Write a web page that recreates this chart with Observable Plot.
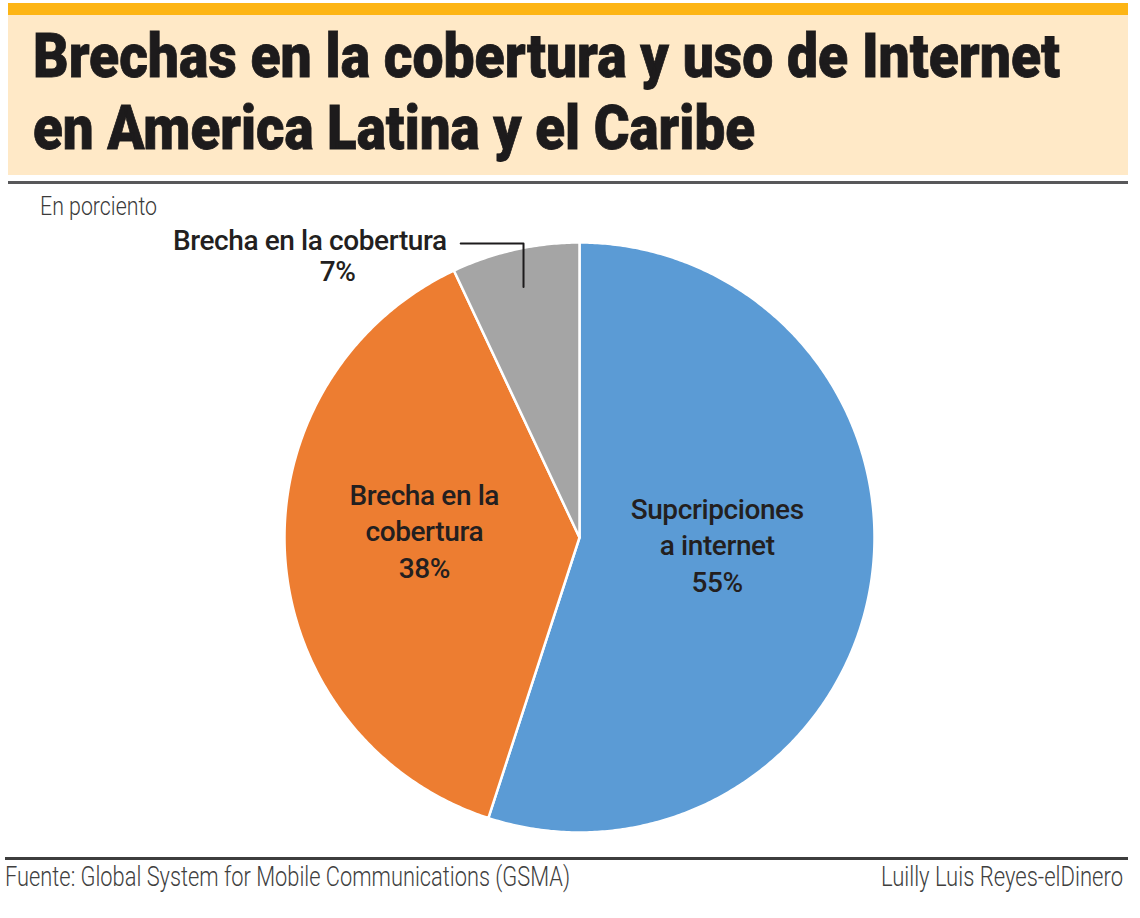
<!DOCTYPE html>
<html><head><meta charset="utf-8">
<script src="https://cdn.jsdelivr.net/npm/d3@7"></script>
<script src="https://cdn.jsdelivr.net/npm/@observablehq/plot@0.6"></script>
<style>
body{margin:0;background:#fff;}
#root{position:relative;width:1140px;height:918px;overflow:hidden;font-family:Roboto,"Liberation Sans",sans-serif;}
.abs{position:absolute;white-space:nowrap;line-height:1;transform-origin:0 0;}
#stripe{left:8px;top:3px;width:1120px;height:12px;background:#FDB515;}
#band{left:8px;top:15px;width:1120px;height:160px;background:#FFE9C7;}
.title{left:33px;font-weight:900;font-size:62px;color:#1d1b1c;-webkit-text-stroke:0.8px #1d1b1c;}
#rule1{left:8px;top:181px;width:1120px;height:3px;background:#58585a;}
#sub{left:40px;top:194px;font-size:25px;font-weight:300;color:#3a3a3a;}
#chart{left:0;top:222px;}
#rule2{left:5px;top:857px;width:1123px;height:3px;background:#3d3d3d;}
.foot{font-size:28px;font-weight:300;color:#3f3f3f;top:863px;}
</style></head>
<body>
<div id="root">
  <div id="stripe" class="abs"></div>
  <div id="band" class="abs"></div>
  <div id="t1" class="abs title" style="top:25px" data-w="1027">Brechas en la cobertura y uso de Internet</div>
  <div id="t2" class="abs title" style="top:97px" data-w="722">en America Latina y el Caribe</div>
  <div id="rule1" class="abs"></div>
  <div id="sub" class="abs" data-w="117">En porciento</div>
  <div id="chart" class="abs"></div>
  <div id="rule2" class="abs"></div>
  <div class="abs foot" style="left:5px" data-w="565">Fuente: Global System for Mobile Communications (GSMA)</div>
  <div class="abs foot" style="left:881px" data-w="242">Luilly Luis Reyes-elDinero</div>
</div>
<script>
// ---- data ----
const categories = ["Supcripciones a internet", "Brecha en la cobertura", "Brecha en la cobertura"];
const labelLines = [["Supcripciones", "a internet"], ["Brecha en la", "cobertura"], ["Brecha en la cobertura"]];
const values = [55, 38, 7];
const colors = ["#5B9BD5", "#ED7D31", "#A5A5A5"];

// ---- build slices (angles clockwise from 12 o'clock, y down) ----
const total = d3.sum(values);
let acc = 0;
const slices = values.map((v, i) => {
  const a0 = acc / total * 2 * Math.PI;
  acc += v;
  const a1 = acc / total * 2 * Math.PI;
  const ring = [[0, 0]];
  const n = Math.max(2, Math.ceil((a1 - a0) / (Math.PI / 360)));
  for (let k = 0; k <= n; k++) {
    const a = a0 + (a1 - a0) * k / n;
    ring.push([Math.sin(a), -Math.cos(a)]);
  }
  ring.push([0, 0]);
  const mid = (a0 + a1) / 2;
  return {
    type: "Feature",
    properties: {i, category: categories[i], value: v, color: colors[i], mid,
      text: labelLines[i].join("\n") + "\n" + v + "%"},
    geometry: {type: "Polygon", coordinates: [ring]}
  };
});

const inside = slices.filter(s => s.properties.value >= 10);
const small = slices.filter(s => s.properties.value < 10);

// leader line for small slice: from mid-angle point up to rim level, then left
const leaders = small.map(s => {
  const m = s.properties.mid;
  const px = 0.87 * Math.sin(m), py = -0.87 * Math.cos(m);
  return {type: "Feature", properties: {}, geometry: {type: "LineString",
    coordinates: [[px, py], [px, -0.997], [px - 0.213, -0.997]]}};
});
const smallLabels = small.map((s, j) => {
  const c = leaders[j].geometry.coordinates[2];
  return {x: c[0], y: c[1], name: labelLines[s.properties.i].join(" "), pct: s.properties.value + "%"};
});

const fontFam = 'Roboto,"Liberation Sans",sans-serif';
const labelStyle = {fontSize: 28, fontWeight: 500, fill: "#231f20", lineAnchor: "middle"};

const chart = Plot.plot({
  width: 1140,
  height: 630,
  marginTop: 20, marginBottom: 20, marginLeft: 18, marginRight: 0,
  projection: {type: "identity", domain: {type: "MultiPoint", coordinates: [[-1, -1], [1, 1]]}},
  style: {fontFamily: fontFam, background: "transparent"},
  marks: [
    Plot.geo(slices, {fill: d => d.properties.color, stroke: "white", strokeWidth: 2.5, strokeLinejoin: "round"}),
    Plot.text(inside, {
      x: d => 0.5 * Math.sin(d.properties.mid),
      y: d => -0.5 * Math.cos(d.properties.mid),
      text: d => d.properties.text,
      dx: -8, dy: -17,
      lineHeight: 1.3, textAnchor: "middle",
      ...labelStyle
    }),
    Plot.geo(leaders, {stroke: "#1d1b1c", strokeWidth: 2, fill: "none"}),
    Plot.text(smallLabels, {x: "x", y: "y", text: "name", textAnchor: "end", dx: -14, dy: -2, ...labelStyle}),
    Plot.text(smallLabels, {x: "x", y: "y", text: "pct", textAnchor: "middle", dx: -123, dy: 29, ...labelStyle})
  ]
});
document.getElementById("chart").appendChild(chart);
d3.select(chart).selectAll("text").attr("letter-spacing", "-0.4px");

// fit condensed text widths
function fit() {
  document.querySelectorAll("[data-w]").forEach(el => {
    el.style.transform = "none";
    const w = el.getBoundingClientRect().width;
    const target = +el.dataset.w;
    if (w > 0) el.style.transform = `scaleX(${target / w})`;
  });
}
fit();
if (document.fonts && document.fonts.ready) document.fonts.ready.then(fit);
</script>
</body></html>
